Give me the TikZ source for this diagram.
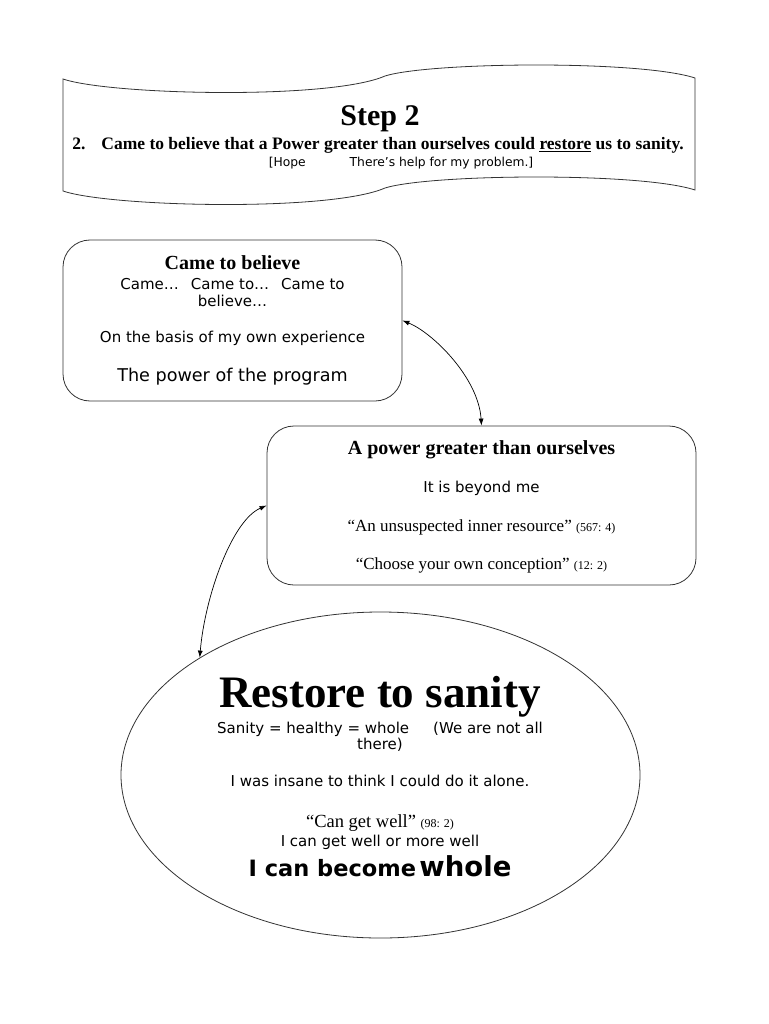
\documentclass[tikz,border=0pt]{standalone}
\usepackage{fontspec}
\setmainfont{Liberation Serif}
\setsansfont{DejaVu Sans}
\usetikzlibrary{shapes.geometric, arrows.meta}
\newcommand{\fsize}[1]{\fontsize{#1}{#1}\selectfont}

\begin{document}
\begin{tikzpicture}[x=1pt, y=-1pt]
    % Setup the styles for the boxes and texts
        \tikzset{box style/.style={draw=black!80,
                                   line width=0.8pt,
                                   rounded corners=27pt,
                                   minimum width=339pt,
                                   minimum height=161pt,
                                   inner sep=0pt},
                 head text/.style={anchor=base, inner sep=0pt, font=\bfseries\fsize{20}},
                 sans text/.style={anchor=base, inner sep=0pt, font=\sffamily\fsize{15}},
                 quote text/.style={anchor=base, inner sep=0pt, font=\fsize{17}},
                 link/.style={<->,
                              >={Latex[length=7pt,width=5pt]},
                              line width=0.7pt}}
        \useasboundingbox (0,0) rectangle (768,1024);
        % Draw the banner
        \draw[draw=black!80, line width=0.8pt]
        (63,79) .. controls (110,95) and (330,100) .. (385,76)
        .. controls (430,62) and (640,60) .. (695,78) -- (695,190)
        .. controls (640,172) and (430,174) .. (385,188)
        .. controls (330,212) and (110,207) .. (63,191) -- cycle;
        \node[anchor=base, inner sep=0pt, font=\bfseries\fsize{30}] (title) at (380,126) {Step 2};
        \node[anchor=base, inner sep=0pt, font=\bfseries\fsize{17.5}] (stepline) at (378,150)
        {2.\hspace{16pt}Came to believe that a Power greater than ourselves could \underline{restore} us to sanity.};
        \node[sans text, font=\sffamily\fsize{12.3}] (hope) at (401,167)
        {[Hope\hspace{44pt}There’s help for my problem.]};
        % Draw the boxes
        \node[box style] (believe) at (232.5,320.5) {};
        \node[box style, minimum width=429pt, minimum height=159pt] (power) at (481.5,505.5) {};
        \node[draw=black!80, line width=0.8pt, ellipse, inner sep=0pt,
              minimum width=519pt, minimum height=326pt] (sanity) at (380.5,775) {};
        % Texts of the first box
        \node[head text] (believe head) at (232.5,269) {Came to believe};
        \node[sans text] (came) at (232.5,289) {Came…\hspace{12pt}Came to…\hspace{12pt}Came to};
        \node[sans text] (came2) at (232.5,306) {believe…};
        \node[sans text] (basis) at (232.5,342) {On the basis of my own experience};
        \node[sans text, font=\sffamily\fsize{17.6}] (program) at (232.5,381) {The power of the program};
        % Texts of the second box
        \node[head text] (power head) at (481.5,454) {A power greater than ourselves};
        \node[sans text] (beyond) at (481.5,492) {It is beyond me};
        \node[quote text] (inner) at (481.5,531) {“An unsuspected inner resource” {\fsize{12}(567: 4)}};
        \node[quote text] (conception) at (481.5,569) {“Choose your own conception” {\fsize{12}(12: 2)}};
        % Texts of the ellipse
        \node[anchor=base, inner sep=0pt, font=\bfseries\fsize{45}] (sanity head) at (380,707) {Restore to sanity};
        \node[sans text] (healthy) at (380,733) {Sanity = healthy = whole\hspace{24pt}(We are not all};
        \node[sans text] (there) at (380,749) {there)};
        \node[sans text] (insane) at (380,786) {I was insane to think I could do it alone.};
        \node[quote text, font=\fsize{18.5}] (getwell) at (380,827) {“Can get well” {\fsize{12}(98: 2)}};
        \node[sans text] (morewell) at (380,846) {I can get well or more well};
        \node[anchor=base, inner sep=0pt, font=\sffamily\bfseries] (whole) at (380,876)
        {{\fsize{22.5}I can become} {\fsize{27.5}whole}};
        % Connect the boxes with arrows
        \draw[link] (believe.east) .. controls +(30,12) and +(-3,-48) .. (power.north);
        \draw[link] (power.west) .. controls +(-35,15) and +(5,-60) .. (sanity.147.5);
\end{tikzpicture}
\end{document}
